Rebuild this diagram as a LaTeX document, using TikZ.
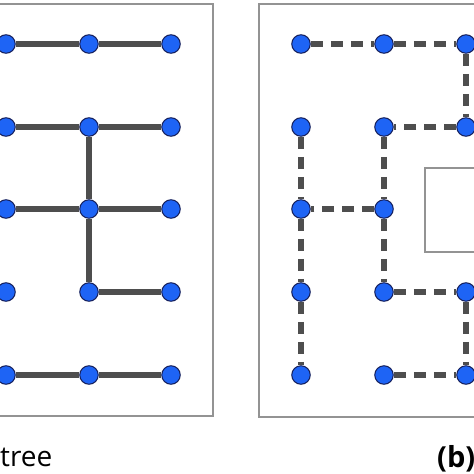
\documentclass[tikz,border=0pt]{standalone}
\usepackage{fontspec}
\setmainfont{Open Sans}
\usetikzlibrary{backgrounds}
\definecolor{vtxblue}{RGB}{30,100,245}
\definecolor{vtxline}{RGB}{20,30,90}
\definecolor{linkgray}{RGB}{78,78,78}
\tikzset{
  vtx/.style={circle, fill=vtxblue, draw=vtxline, line width=1pt, minimum size=18.5pt, inner sep=0pt},
  frame/.style={draw=gray!85, line width=2.5pt},
  link/.style={draw=linkgray, line width=5.5pt},
  dlink/.style={link, dash pattern=on 12pt off 8pt}
}
\begin{document}
\begin{tikzpicture}[x=1pt, y=-1pt]
	\useasboundingbox (0,0) rectangle (474,474);
	% 1. frames
	\draw[frame] (-36,4) rectangle (213,416);
	\draw[frame] (259,4) rectangle (508,417);
	\draw[frame] (500,168) -- (425,168) -- (425,252) -- (500,252);
	
	% 2. grid points
	\foreach \r/\y in {1/44, 2/127, 3/209, 4/292, 5/375}{
		\node[vtx] (a\r1) at (6,\y) {};
		\node[vtx] (a\r2) at (89,\y) {};
		\node[vtx] (a\r3) at (171,\y) {};
		\node[vtx] (b\r1) at (301,\y) {};
		\node[vtx] (b\r2) at (384,\y) {};
	}
	\foreach \r/\y in {1/44, 2/127, 4/292, 5/375}
		\node[vtx] (b\r3) at (466,\y) {};
	
	% 3. left: solid tree
	\begin{scope}[on background layer]
		\draw[link] (a11) -- (a12) -- (a13);
		\draw[link] (a21) -- (a22) -- (a23);
		\draw[link] (a31) -- (a32) -- (a33);
		\draw[link] (a22) -- (a32) -- (a42) -- (a43);
		\draw[link] (a51) -- (a52) -- (a53);
		
		% 4. right: dashed tree
		\draw[dlink] (b11) -- (b12);
		\draw[dlink] (b12) -- (b13);
		\draw[dlink] (b13) -- (b23);
		\draw[dlink] (b23) -- (b22);
		\draw[dlink] (b22) -- (b32);
		\draw[dlink] (b32) -- (b42);
		\draw[dlink] (b32) -- (b31);
		\draw[dlink] (b21) -- (b31);
		\draw[dlink] (b31) -- (b41);
		\draw[dlink] (b41) -- (b51);
		\draw[dlink] (b42) -- (b43);
		\draw[dlink] (b43) -- (b53);
		\draw[dlink] (b52) -- (b53);
	\end{scope}
	
	% 5. captions
	\node[anchor=base west, inner sep=0pt, font=\fontsize{28}{34}\selectfont] (capa) at (0,466) {tree};
	\node[anchor=base west, inner sep=0pt, font=\fontsize{29}{34}\selectfont\bfseries] (capb) at (437,467) {(b)};
\end{tikzpicture}
\end{document}
